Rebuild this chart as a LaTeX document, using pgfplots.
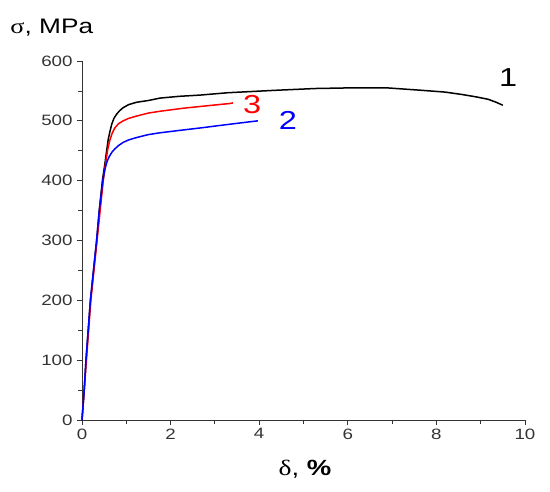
\documentclass[border=0pt]{standalone}
\usepackage{fontspec}
\setmainfont{Liberation Sans}
\newfontfamily\serif{Liberation Serif}
\usepackage{pgfplots}
\pgfplotsset{compat=1.18}
\begin{document}
\begin{tikzpicture}
\useasboundingbox (-82pt,-72pt) rectangle (468pt,420pt);
\begin{axis}[
  at={(0,0)}, anchor=origin,
  scale only axis, width=443pt, height=359pt,
  xmin=0, xmax=10, ymin=0, ymax=600,
  axis x line=bottom, axis y line=left,
  axis line style={-, color=black!80, line width=0.8pt},
  xtick={0,2,...,10}, ytick={0,100,...,600},
  minor x tick num=1, minor y tick num=1,
  tick align=outside, major tick length=5pt, minor tick length=4pt,
  every tick/.style={black!80, line width=0.8pt},
  tick label style={font=\fontsize{15}{15}\selectfont, text=black!80, xscale=1.25},
  /pgf/number format/assume math mode=true,
  clip=false,
]
\addplot[black, line width=1.5pt, line join=round] coordinates {
(0,0) (0.05,50) (0.09,100) (0.14,150) (0.19,200) (0.26,250) (0.33,300) (0.39,350) (0.46,400) (0.52,430) (0.56,452) (0.59,468) (0.63,482) (0.67,494) (0.72,504) (0.78,511) (0.85,517) (0.93,522) (1.05,527) (1.23,531) (1.5,534) (1.76,538) (2.2,541) (2.66,543) (3.3,547) (4.36,551) (5.26,554) (6.0,555) (6.9,555) (7.67,551) (8.2,548) (8.58,544) (8.9,540) (9.17,536) (9.35,531) (9.5,526)
};
\addplot[red, line width=1.5pt, line join=round] coordinates {
(0,0) (0.05,50) (0.1,100) (0.15,150) (0.2,200) (0.27,250) (0.34,300) (0.41,350) (0.48,400) (0.53,428) (0.58,452) (0.63,468) (0.68,479) (0.74,488) (0.82,495) (0.93,500) (1.05,504) (1.23,508) (1.5,513) (1.76,516) (2.28,521) (2.8,525) (3.34,529) (3.41,530)
};
\addplot[blue, line width=1.5pt, line join=round] coordinates {
(0,0) (0.05,50) (0.09,100) (0.14,150) (0.19,200) (0.26,250) (0.33,300) (0.39,350) (0.47,400) (0.52,420) (0.57,433) (0.62,441) (0.68,448) (0.74,453) (0.83,459) (0.93,464) (1.05,468) (1.23,472) (1.5,477) (1.76,480) (2.2,484) (2.66,488) (3.3,494) (3.97,500)
};
\node[font=\fontsize{26}{26}\selectfont, xscale=1.25, black] at (axis cs:9.62,573) {1};
\node[font=\fontsize{26}{26}\selectfont, xscale=1.25, red] at (axis cs:3.84,528) {3};
\node[font=\fontsize{26}{26}\selectfont, xscale=1.25, blue] at (axis cs:4.65,501) {2};
\end{axis}
\node[anchor=base west, xscale=1.25, font=\fontsize{21}{21}\selectfont] at (-76pt,386pt) {{\serif σ}, MPa};
\node[anchor=base, xscale=1.25, font=\fontsize{22}{22}\selectfont] at (223pt,-56pt) {{\serif δ}, \textbf{\%}};
\end{tikzpicture}
\end{document}
